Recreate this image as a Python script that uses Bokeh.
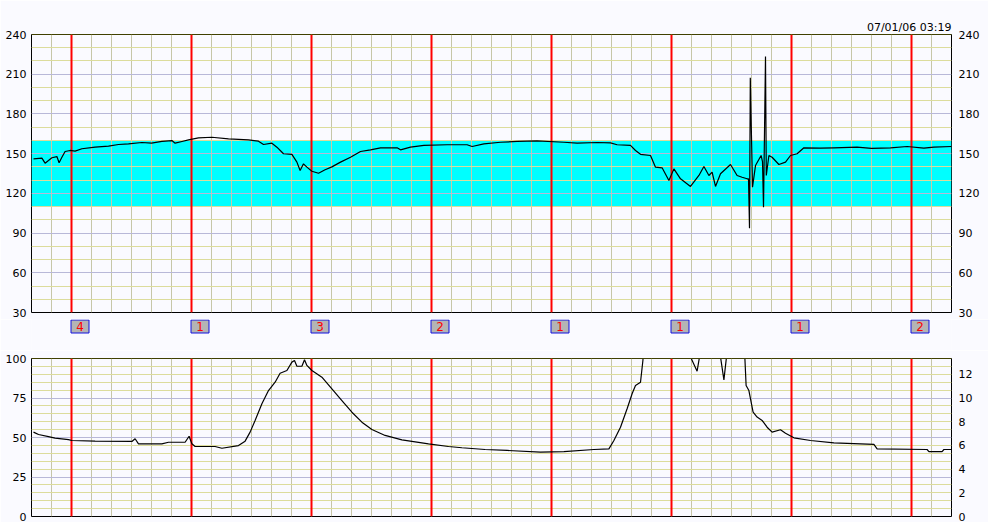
from bokeh.plotting import figure
from bokeh.models import (Range1d, LinearAxis, FixedTicker, SingleIntervalTicker, BoxAnnotation,
                          Span, Grid)
from bokeh.core.properties import value
from bokeh.layouts import column
from bokeh.embed import file_html
from bokeh.resources import INLINE

# ---------------- data ----------------
# time axis in seconds (one grid cell = 10 s, one red line = 1 min)
fhr_t = [1, 5.2, 6.8, 8.5, 10.2, 12.7, 13.8, 15.2, 16.8, 19.3, 21.8, 25.2, 31.8, 38.5, 43.5, 48.5,
         55.2, 60, 65.2, 70.2, 71.8, 75.2, 78.5, 83.5, 90.2, 98.5, 108.5, 113.5, 116, 120.2, 122.7,
         126, 130.2, 132.7, 134.3, 136, 137.7, 140.2, 143.5, 146.8, 150.2, 154.5, 159.5, 164.5,
         169.5, 174.5, 182.8, 184.5, 189.5, 196.2, 207.8, 217.8, 220.3, 226.2, 234.5, 242.8, 252.8,
         266.2, 272.8, 282.8, 289.5, 292.8, 299.5, 302, 304.5, 309.5, 312, 315.3, 318.7, 321.2,
         324.5, 329.5, 333.7, 336.2, 338.7, 340.3, 342, 344.5, 349.5, 352.8, 355.3, 357.8, 358.5,
         359, 359.4, 360.5, 362, 364.8, 365.5, 366, 367, 367.4, 368.7, 370.3, 373.7, 377, 379.5,
         382.8, 386.2, 394.5, 401.2, 412.8, 420, 429.5, 437.8, 446.2, 451.2, 460]
fhr_bpm = [146.1, 146.6, 142.8, 144.8, 146.9, 147.8, 143.1, 147.3, 151.6, 152.4, 151.9, 153.7, 154.9,
           155.7, 156.9, 157.4, 158.4, 158.0, 159.2, 159.9, 157.9, 159.2, 160.4, 161.9, 162.4, 161.2,
           160.4, 159.4, 156.9, 157.9, 154.9, 149.9, 149.4, 143.6, 137.3, 142.3, 139.8, 136.7, 135.2,
           137.8, 140.0, 143.6, 147.3, 151.6, 152.9, 154.4, 154.4, 152.9, 154.9, 156.2, 156.7, 156.7,
           155.4, 157.4, 158.6, 159.2, 159.7, 158.6, 157.9, 158.4, 158.1, 156.7, 156.2, 152.4, 149.5,
           148.6, 139.8, 139.3, 129.7, 138.5, 131.0, 125.2, 133.5, 140.3, 133.5, 136.0, 125.2, 134.8,
           141.8, 133.5, 132.2, 131.0, 131.0, 93.7, 207.3, 124.7, 141.0, 148.6, 144.0, 109.5, 223.4,
           133.5, 148.6, 147.3, 141.8, 143.6, 148.6, 149.9, 154.4, 154.1, 154.4, 154.9, 154.0, 154.4,
           155.4, 154.1, 154.9, 155.4]

ua_t = [1, 3.5, 8.5, 11.8, 18.5, 20.2, 31.8, 50.2, 51.8, 53.5, 65.2, 68.5, 76.8, 78.8, 80.2, 81.8,
        91.8, 95.2, 103.5, 106.8, 109.3, 111.8, 115.2, 118.5, 121.8, 124.3, 127.7, 130.2, 131.5,
        132.7, 135.2, 136.5, 137.7, 140.2, 145.2, 150.2, 155.2, 160.2, 165.2, 170.2, 176.8, 185.2,
        198.5, 208.5, 215.2, 226.8, 237.8, 254.5, 266.2, 281.2, 288.7, 291.2, 294.5, 297.8, 300.3,
        302, 304.5, 305.7, 306.5, 318, 329.5, 332.8, 334, 339.5, 344.5, 346.2, 347.5, 352, 356.7,
        357.3, 358.7, 360.8, 362.8, 365.3, 367.8, 370.3, 374.5, 377, 381.2, 389.5, 401.2, 421.2,
        422.8, 447.8, 448.7, 455.3, 456.2, 461]
ua_mmhg = [53.4, 51.9, 50.6, 49.6, 48.7, 48.1, 47.7, 47.5, 49.2, 46.0, 46.0, 47.0, 47.0, 50.8, 46.0,
           44.3, 44.3, 43.2, 44.9, 47.7, 53.4, 60.8, 71.3, 79.7, 85.0, 90.7, 92.4, 97.7, 98.7, 95.1,
           95.1, 99.2, 95.6, 92.4, 88.2, 80.8, 73.4, 66.0, 59.7, 55.1, 51.3, 48.5, 46.0, 44.3, 43.5,
           42.4, 41.8, 40.7, 41.1, 42.4, 42.8, 48.1, 56.5, 68.2, 77.7, 82.9, 85.0, 98.7, 115.0, 120.0,
           101.0, 92.0, 101.0, 115.0, 101.0, 86.5, 101.0, 115.0, 100.0, 82.9, 79.7, 66.0, 62.9, 60.8,
           56.5, 53.4, 54.9, 52.7, 49.8, 48.1, 46.6, 45.6, 42.8, 42.4, 41.1, 41.1, 42.4, 42.4]

minute_marks = [20, 80, 140, 200, 260, 320, 380, 440]
marker_labels = ["4", "1", "3", "2", "1", "1", "1", "2"]

fhr_ticks = [30, 60, 90, 120, 150, 180, 210, 240]
fhr_minor = [40, 50, 70, 80, 100, 110, 130, 140, 160, 170, 190, 200, 220, 230]
band_low, band_high = 110, 160
ua_ticks = [0, 25, 50, 75, 100]
ua_minor = [5, 10, 15, 20, 30, 35, 40, 45, 55, 60, 65, 70, 80, 85, 90, 95]
kpa_ticks = [0, 2, 4, 6, 8, 10, 12]
timestamp = "07/01/06 03:19"

# ---------------- style ----------------
BG = "#fafaff"
FONT = "DejaVu Sans"
FSIZE = "11px"
VGRID = "#c6c6a8"
HMINOR = "#dcdc9c"
HMAJOR = "#b8b8d8"
OLIVE = "#808000"


def style_axis(ax, ticks, standoff):
    ax.ticker = FixedTicker(ticks=ticks)
    ax.major_label_text_font = FONT
    ax.major_label_text_font_size = FSIZE
    ax.major_label_text_color = "#000000"
    ax.major_label_standoff = standoff
    ax.axis_line_color = None
    ax.major_tick_line_color = None
    ax.minor_tick_line_color = None
    ax.major_tick_out = 0
    ax.major_tick_in = 0
    ax.minor_tick_out = 0
    ax.minor_tick_in = 0


def base_fig(height, yr, top, bottom, outline="#000000", axes=True):
    p = figure(width=988, height=height, x_range=xr, y_range=yr,
               x_axis_location=None, y_axis_location="left" if axes else None,
               output_backend="svg", toolbar_location=None,
               min_border_left=31, min_border_right=37,
               min_border_top=top, min_border_bottom=bottom,
               background_fill_color=BG, border_fill_color=BG,
               outline_line_color=outline)
    return p


xr = Range1d(0, 460)

# ---------------- FHR panel ----------------
p1 = base_fig(319, Range1d(30, 240), 34, 7)
p1.xgrid.ticker = SingleIntervalTicker(interval=10)
p1.xgrid.grid_line_color = VGRID
p1.ygrid.grid_line_color = None
p1.add_layout(BoxAnnotation(bottom=band_low, top=band_high, fill_color="#00ffff",
                            fill_alpha=1.0, line_color=None, level="image"))
p1.add_layout(Grid(dimension=1, ticker=FixedTicker(ticks=fhr_minor), grid_line_color=HMINOR))
p1.add_layout(Grid(dimension=1, ticker=FixedTicker(ticks=fhr_ticks), grid_line_color=HMAJOR))
style_axis(p1.yaxis[0], fhr_ticks, 5)
r_ax = LinearAxis()
style_axis(r_ax, fhr_ticks, 7)
p1.add_layout(r_ax, "right")
p1.segment(x0=minute_marks, y0=30, x1=minute_marks, y1=240, line_color="#ff0000", line_width=2)
p1.line(fhr_t, fhr_bpm, line_color="#000000", line_width=1.2)
p1.add_layout(Span(location=240, dimension="width", line_color=OLIVE, line_width=1))
p1.title.text = timestamp
p1.title.align = "right"
p1.title.text_font = FONT
p1.title.text_font_size = FSIZE
p1.title.text_font_style = "normal"
p1.title.text_color = "#000000"
p1.title.standoff = 2

# ---------------- marker strip ----------------
p2 = base_fig(31, Range1d(31, 0), 0, 0, outline=None, axes=False)
p2.xgrid.grid_line_color = None
p2.ygrid.grid_line_color = None
box_x = [m + 4.25 for m in minute_marks]
p2.rect(x=box_x, y=7, width=18, height=13, width_units="screen", height_units="screen",
        fill_color="#b4b4b4", fill_alpha=1.0, line_color="#1010e0", line_width=1)
p2.text(x=box_x, y=7, text=marker_labels, text_align="center", text_baseline="middle",
        text_color="#ff0000", text_font=value(FONT), text_font_size="12px")

# ---------------- UA panel ----------------
p3 = base_fig(172, Range1d(0, 100), 8, 6)
p3.xgrid.ticker = SingleIntervalTicker(interval=10)
p3.xgrid.grid_line_color = VGRID
p3.ygrid.grid_line_color = None
p3.extra_y_ranges = {"kpa": Range1d(0, 100 / 7.5)}
p3.add_layout(Grid(dimension=1, ticker=FixedTicker(ticks=ua_minor), grid_line_color=HMINOR))
p3.add_layout(Grid(dimension=1, ticker=FixedTicker(ticks=ua_ticks), grid_line_color=HMAJOR))
style_axis(p3.yaxis[0], ua_ticks, 5)
k_ax = LinearAxis(y_range_name="kpa")
style_axis(k_ax, kpa_ticks, 7)
p3.add_layout(k_ax, "right")
p3.segment(x0=minute_marks, y0=0, x1=minute_marks, y1=100, line_color="#ff0000", line_width=2)
p3.line(ua_t, ua_mmhg, line_color="#000000", line_width=1.2)
p3.add_layout(Span(location=100, dimension="width", line_color=OLIVE, line_width=1))

layout = column(p1, p2, p3, spacing=0)
open("out.html", "w").write(file_html(layout, INLINE))
